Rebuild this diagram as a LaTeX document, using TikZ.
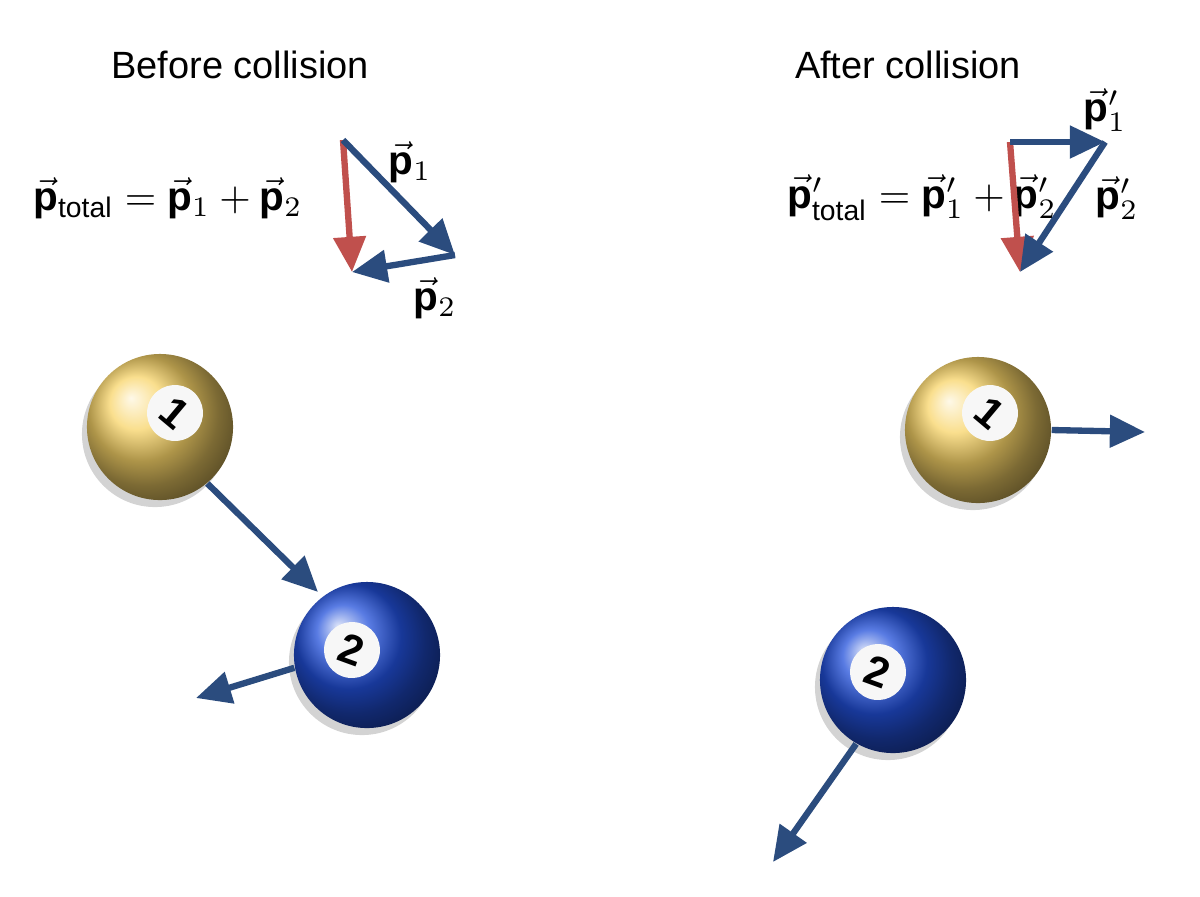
\documentclass[tikz,border=0pt]{standalone}
\usepackage{fontspec}
\setmainfont{Liberation Sans}
\usetikzlibrary{arrows.meta,shadows}
\definecolor{vecblue}{HTML}{2B4C7E}
\definecolor{vecred}{HTML}{C0504D}
\definecolor{bally}{HTML}{F8D468}
\definecolor{ballb}{HTML}{2250DA}
\tikzset{
  vec/.style={vecblue, line width=1.8pt, -{Triangle[length=10pt,width=9pt]}},
  sum/.style={vecred, line width=1.8pt, -{Triangle[length=10pt,width=9pt]}},
  ball/.style={circle, minimum size=1.46cm, inner sep=0pt, ball color=#1,
    drop shadow={shadow xshift=-0.05cm, shadow yshift=-0.07cm, opacity=0.35}},
  spot/.style={circle, fill=white!94!gray, minimum size=0.56cm, inner sep=0pt, font=\bfseries\large},
  lbl/.style={font=\normalsize, scale=1.15}
}
\newcommand{\pv}{\vec{\mathbf{p}}}
\begin{document}
\begin{tikzpicture}[x=0.01cm,y=-0.01cm]
\useasboundingbox (0,0) rectangle (1200,896);
% titles
\node[font=\large, scale=0.9] (tb) at (240,65) {Before collision};
\node[font=\large, scale=0.9] (ta) at (908,65) {After collision};
% equations
\node[lbl] (eqb) at (168,198) {$\pv_{\mathrm{total}} = \pv_1 + \pv_2$};
\node[lbl] (eqa) at (922,198) {$\pv'_{\mathrm{total}} = \pv'_1 + \pv'_2$};
% before triangle
\coordinate (b0) at (343,140);
\coordinate (b1) at (455,255);
\coordinate (b2) at (352,272);
\draw[sum] (b0) -- (b2);
\draw[vec] (b0) -- (b1);
\draw[vec] (b1) -- (b2);
\node[lbl] (lp1) at (410,162) {$\pv_1$};
\node[lbl] (lp2) at (435,298) {$\pv_2$};
% after triangle
\coordinate (a0) at (1010,142);
\coordinate (a1) at (1105,142);
\coordinate (a2) at (1020,272);
\draw[sum] (a0) -- (a2);
\draw[vec] (a0) -- (a1);
\draw[vec] (a1) -- (a2);
\node[lbl] (lq1) at (1105,110) {$\pv'_1$};
\node[lbl] (lq2) at (1117,198) {$\pv'_2$};
% balls before
\node[ball=bally] (y1) at (160,427) {};
\node[spot, rotate=-40] (s1) at (175,413) {1};
\node[ball=ballb] (u1) at (367,655) {};
\node[spot, rotate=-20] (s2) at (352,650) {2};
\coordinate (e1) at (318,592);
\coordinate (e2) at (196,698);
\draw[vec] (y1.-50) -- (e1);
\draw[vec] (u1.190) -- (e2);
% balls after
\node[ball=bally] (y2) at (978,430) {};
\node[spot, rotate=-40] (s3) at (990,413) {1};
\node[ball=ballb] (u2) at (893,680) {};
\node[spot, rotate=-20] (s4) at (878,672) {2};
\coordinate (e3) at (1145,432);
\coordinate (e4) at (773,862);
\draw[vec] (y2.0) -- (e3);
\draw[vec] (u2.-120) -- (e4);
\end{tikzpicture}
\end{document}
